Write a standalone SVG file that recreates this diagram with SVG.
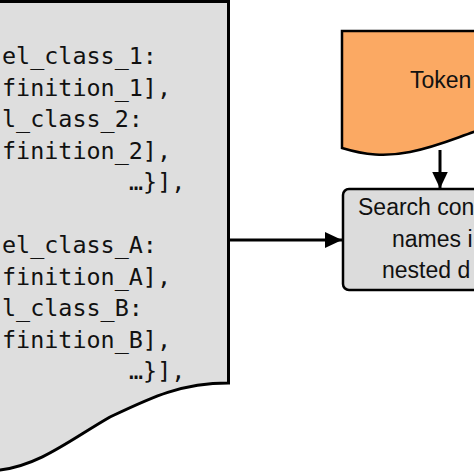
<svg xmlns="http://www.w3.org/2000/svg" width="474" height="474" viewBox="0 0 474 474">
  <defs>
    <marker id="arrow" viewBox="0 0 17 16" refX="17" refY="8" markerWidth="17" markerHeight="16" markerUnits="userSpaceOnUse" orient="auto">
      <path d="M0,0 L17,8 L0,16 Z" fill="#000"/>
    </marker>
    <style>
      .code { font-family: "DejaVu Sans Mono", "Liberation Mono", monospace; font-size: 23.4px; fill: #111; }
      .lbl { font-family: "Liberation Sans", Arial, sans-serif; font-size: 23px; fill: #111; }
      .edge { stroke: #000; stroke-width: 3; fill: none; }
    </style>
  </defs>
  <rect width="474" height="474" fill="#fff"/>

  <g id="dict-doc">
    <path d="M-10,1.5 L228.5,1.5 L228.5,383 C180,383 150,398 110,417 C70,440 40,465 0,470 L-10,471 Z" fill="#dedede" stroke="#000" stroke-width="3"/>
    <text class="code" x="2" y="64">el_class_1:</text>
    <text class="code" x="2" y="95.5">finition_1],</text>
    <text class="code" x="2" y="127">l_class_2:</text>
    <text class="code" x="2" y="158.5">finition_2],</text>
    <text class="code" x="129" y="190">…}],</text>
    <text class="code" x="2" y="253">el_class_A:</text>
    <text class="code" x="2" y="284.5">finition_A],</text>
    <text class="code" x="2" y="316">l_class_B:</text>
    <text class="code" x="2" y="347.5">finition_B],</text>
    <text class="code" x="129" y="379">…}],</text>
  </g>

  <g id="token">
    <path d="M342,148 L342,31 L480,31 L480,130 C460,136 440,146 410,152 C385,157 365,155 342,148 Z" fill="#fba963" stroke="#000" stroke-width="2.5"/>
    <text class="lbl" x="410" y="88">Token</text>
  </g>

  <g id="search">
    <rect x="343" y="189" width="200" height="101" rx="6" fill="#dcdcdc" stroke="#000" stroke-width="2.5"/>
    <text class="lbl" x="358" y="215">Search con</text>
    <text class="lbl" x="392" y="247">names i</text>
    <text class="lbl" x="382" y="278">nested d</text>
  </g>

  <g id="connectors">
    <line class="edge" x1="230" y1="240" x2="342" y2="240" marker-end="url(#arrow)"/>
    <line class="edge" x1="440" y1="150" x2="440" y2="188.5" marker-end="url(#arrow)"/>
  </g>
</svg>
